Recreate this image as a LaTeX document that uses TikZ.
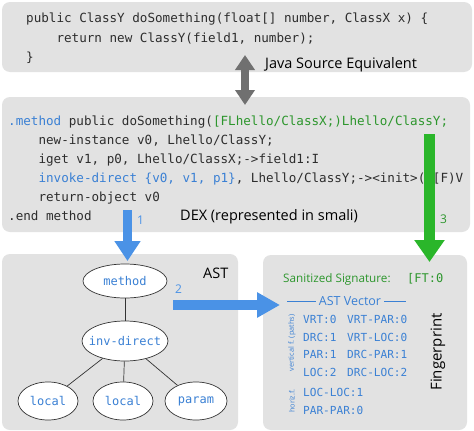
\documentclass[tikz,border=0pt]{standalone}
\usepackage{fontspec}
\setmainfont{Open Sans}
\setmonofont{DejaVu Sans Mono}
\usetikzlibrary{shapes.geometric,arrows.meta}
\definecolor{boxgray}{RGB}{226,226,226}
\definecolor{codetext}{RGB}{45,45,45}
\definecolor{codeblue}{RGB}{58,128,212}
\definecolor{codegreen}{RGB}{45,150,45}
\definecolor{arrowblue}{RGB}{74,146,230}
\definecolor{arrowgreen}{RGB}{42,182,42}
\definecolor{arrowgray}{RGB}{112,112,112}
\begin{document}
\begin{tikzpicture}[x=1pt,y=-1pt,
  panel/.style={fill=boxgray, draw=none, rounded corners=8pt},
  code/.style={anchor=base west, inner sep=0pt, font=\fontsize{12.6}{15}\ttfamily, text=codetext},
  fp/.style={anchor=base west, inner sep=0pt, font=\fontsize{11.1}{13}\ttfamily, text=codeblue},
  lbl/.style={inner sep=0pt, font=\fontsize{14.5}{17}\selectfont, text=black},
  num/.style={inner sep=0pt, font=\fontsize{12}{14}\selectfont},
  astnode/.style={ellipse, draw=black!80, line width=0.7pt, fill=white, inner sep=0pt, label={[font=\fontsize{12}{14}\ttfamily, text=codeblue]center:#1}},
  edge/.style={draw=black!80, line width=0.7pt},
  blockarrow/.style={draw=#1, line width=10pt}
]
\useasboundingbox (0,0) rectangle (474,431);
\fill[white] (0,0) rectangle (474,431);

% panels
\path[panel] (2,2) rectangle (472,72);
\path[panel] (2,97) rectangle (470,232);
\path[panel] (2,254) rectangle (238,430);
\path[panel] (263,255) rectangle (467,430);

% Java source
\node[code] (j1) at (26,23) {public ClassY doSomething(float[] number, ClassX x) \{};
\node[code] (j2) at (26,42) {\ \ \ \ return new ClassY(field1, number);};
\node[code] (j3) at (26,61) {\}};
\node[lbl, anchor=base west] (javalbl) at (265,68) {Java Source Equivalent};

% smali
\node[code] (s1) at (8,125) {\textcolor{codeblue}{.method} public doSomething(\textcolor{codegreen}{[FLhello/ClassX;)Lhello/ClassY;}};
\node[code] (s2) at (8,144) {\ \ \ \ new-instance v0, Lhello/ClassY;};
\node[code] (s3) at (8,163) {\ \ \ \ iget v1, p0, Lhello/ClassX;->field1:I};
\node[code] (s4) at (8,182) {\ \ \ \ \textcolor{codeblue}{invoke-direct \{v0, v1, p1\}}, Lhello/ClassY;-><init>(I[F)V};
\node[code] (s5) at (8,201) {\ \ \ \ return-object v0};
\node[code] (s6) at (8,220) {.end method};
\node[lbl, anchor=base west] (dexlbl) at (180,220) {DEX (represented in smali)};

% AST
\node[lbl, anchor=base west] (astlbl) at (203,278) {AST};
\node[astnode={method}, minimum width=84pt, minimum height=34pt] (m) at (125,281) {};
\node[astnode={inv-direct}, minimum width=86pt, minimum height=40pt] (inv) at (125,341) {};
\node[astnode={local}, minimum width=60pt, minimum height=38pt] (l1) at (48,401) {};
\node[astnode={local}, minimum width=60pt, minimum height=38pt] (l2) at (123,401) {};
\node[astnode={param}, minimum width=62pt, minimum height=38pt] (pa) at (196,401) {};
\draw[edge] (m) -- (inv);
\draw[edge] (inv) -- (l1);
\draw[edge] (inv) -- (l2);
\draw[edge] (inv) -- (pa);

% Fingerprint panel
\node[inner sep=0pt, anchor=base west, font=\fontsize{11.7}{15}\selectfont, text=codegreen] (sanlbl) at (283,282) {Sanitized Signature:};
\node[inner sep=0pt, anchor=base west, font=\fontsize{12}{15}\ttfamily, text=codegreen] (sanval) at (407,282) {[FT:0};
\node[inner sep=0pt, font=\fontsize{12.5}{14}\selectfont, text=codeblue] (astvec) at (350,301) {AST Vector};
\coordinate (vl1) at (287,301);
\coordinate (vr2) at (406,301);
\draw[codeblue, line width=1pt] (vl1) -- ([xshift=-3pt]astvec.west);
\draw[codeblue, line width=1pt] ([xshift=3pt]astvec.east) -- (vr2);
\node[fp] (f11) at (303,323) {VRT:0};
\node[fp] (f12) at (347,323) {VRT-PAR:0};
\node[fp] (f21) at (303,341) {DRC:1};
\node[fp] (f22) at (347,341) {VRT-LOC:0};
\node[fp] (f31) at (303,358) {PAR:1};
\node[fp] (f32) at (347,358) {DRC-PAR:1};
\node[fp] (f41) at (303,376) {LOC:2};
\node[fp] (f42) at (347,376) {DRC-LOC:2};
\node[fp] (f51) at (303,396) {LOC-LOC:1};
\node[fp] (f61) at (303,414) {PAR-PAR:0};
\node[inner sep=0pt, rotate=90, font=\fontsize{7.3}{9}\selectfont, text=codeblue] (vert) at (292,343) {vertical f. (paths)};
\node[inner sep=0pt, rotate=90, font=\fontsize{7.3}{9}\selectfont, text=codeblue] (horiz) at (292,401) {horiz.f.};
\node[inner sep=0pt, rotate=90, font=\fontsize{15}{18}\selectfont, text=black] (fplbl) at (438,352) {Fingerprint};

% arrows
\coordinate (g1) at (245,55);
\coordinate (g2) at (245,105);
\draw[arrowgray, line width=8pt, {Triangle[width=19pt,length=15pt]}-{Triangle[width=19pt,length=15pt]}] (g1) -- (g2);

\coordinate (b1s) at (127.5,210);
\coordinate (b1e) at (127.5,261);
\draw[arrowblue, line width=9pt, -{Triangle[width=25pt,length=20pt]}] (b1s) -- (b1e);
\node[num, text=arrowblue, anchor=base west] (n1) at (137,224) {1};

\coordinate (b2s) at (173,305);
\coordinate (b2e) at (280,305);
\draw[arrowblue, line width=10pt, -{Triangle[width=24pt,length=23pt]}] (b2s) -- (b2e);
\node[num, text=arrowblue, anchor=base west] (n2) at (175,293) {2};

\coordinate (c3s) at (429.5,134);
\coordinate (c3e) at (429.5,262);
\draw[arrowgreen, line width=11pt, -{Triangle[width=29pt,length=22pt]}] (c3s) -- (c3e);
\node[num, text=codegreen, anchor=base west] (n3) at (440,223) {3};
\end{tikzpicture}
\end{document}
